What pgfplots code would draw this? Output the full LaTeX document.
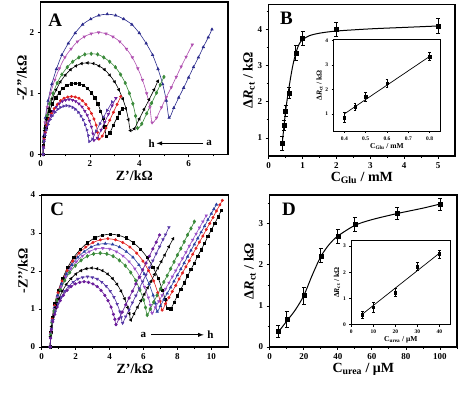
\documentclass[border=0pt]{standalone}
\usepackage{fontspec}
\setmainfont{Liberation Serif}
\usepackage{pgfplots}
\pgfplotsset{compat=1.18}
\definecolor{cNavy}{HTML}{2A2A8C}
\definecolor{cOrchid}{HTML}{B050B0}
\definecolor{cGreen}{HTML}{3A8A3A}
\definecolor{cRed}{HTML}{E02020}
\definecolor{cPurple}{HTML}{6A1B9A}
\definecolor{cViolet}{HTML}{5535A5}
\definecolor{cBlue}{HTML}{2A3FA0}
\definecolor{cLav}{HTML}{9A50C8}
\tikzset{letter/.style={font=\bfseries\fontsize{19}{19}\selectfont, anchor=north west, inner sep=0pt}}
\pgfplotsset{
  panel/.style={scale only axis, axis line style={line width=1.1pt},
    tick align=outside, tick style={line width=0.8pt,black},
    major tick length=3pt, minor tick length=2pt,
    xtick pos=bottom, ytick pos=left,
    /pgf/number format/assume math mode=true,
    tick label style={font=\bfseries\fontsize{9}{10}\selectfont},
    label style={font=\bfseries\fontsize{14}{15}\selectfont},
    clip=true},
  inset/.style={scale only axis, axis line style={line width=0.8pt},
    axis background/.style={fill=white},
    tick align=outside, tick style={line width=0.6pt,black},
    major tick length=2pt, minor tick length=1pt,
    xtick pos=bottom, ytick pos=left,
    /pgf/number format/assume math mode=true,
    tick label style={font=\bfseries\fontsize{5.5}{6}\selectfont},
    label style={font=\bfseries\fontsize{7.5}{8}\selectfont},
    xlabel style={yshift=4pt}, ylabel style={yshift=-4pt}},
  nyq/.style={line width=0.6pt, smooth, mark size=1.4pt},
}
\begin{document}
\begin{tikzpicture}
\path[use as bounding box] (0pt,0pt) rectangle (474pt,396pt);
% ---------------- Panel A ----------------
\begin{axis}[panel, at={(40.7pt,241.7pt)}, anchor=south west,
  width=187.3pt, height=152.3pt,
  xmin=0, xmax=7.6, ymin=0, ymax=2.5,
  xtick={0,2,4,6}, minor xtick={1,3,5,7}, ytick={0,1,2},
  xlabel={Z'/kΩ}, ylabel={-Z'{}'/kΩ},
  ylabel style={yshift=-4pt}, xlabel style={yshift=3pt}]
\addplot[nyq, color=cNavy, mark=triangle*] coordinates {(0.10,0) (0.12,0.30) (0.19,0.60) (0.30,0.88) (0.45,1.15) (0.64,1.40) (0.86,1.63) (1.12,1.82) (1.40,1.99) (1.70,2.13) (2.03,2.22) (2.36,2.28) (2.70,2.30) (3.04,2.28) (3.37,2.22) (3.70,2.13) (4.00,1.99) (4.28,1.82) (4.54,1.63) (4.76,1.40) (4.95,1.15) (5.10,0.88) (5.21,0.60) (5.4,0.76) (5.6,0.93) (5.8,1.09) (6.0,1.26) (6.2,1.43) (6.4,1.59) (6.6,1.76) (6.8,1.92) (6.95,2.05)};
\addplot[nyq, color=cOrchid, mark=triangle*, mark options={rotate=180}] coordinates {(0.10,0) (0.12,0.26) (0.18,0.52) (0.27,0.77) (0.40,1.00) (0.57,1.22) (0.76,1.41) (0.98,1.59) (1.23,1.73) (1.49,1.85) (1.77,1.93) (2.05,1.98) (2.35,2.00) (2.65,1.98) (2.93,1.93) (3.21,1.85) (3.48,1.73) (3.72,1.59) (3.94,1.41) (4.13,1.22) (4.30,1.00) (4.43,0.77) (4.52,0.52) (4.7,0.6) (4.9,0.77) (5.1,0.94) (5.3,1.1) (5.5,1.27) (5.7,1.44) (5.9,1.6) (6.15,1.8)};
\addplot[nyq, color=cGreen, mark=diamond*, mark size=1.7pt] coordinates {(0.10,0) (0.12,0.22) (0.17,0.43) (0.25,0.63) (0.36,0.83) (0.50,1.00) (0.67,1.17) (0.86,1.31) (1.08,1.43) (1.30,1.52) (1.55,1.59) (1.79,1.64) (2.05,1.65) (2.31,1.64) (2.56,1.59) (2.80,1.52) (3.03,1.43) (3.24,1.31) (3.43,1.17) (3.60,1.00) (3.74,0.83) (3.85,0.63) (3.93,0.43) (4.1,0.5) (4.3,0.67) (4.5,0.84) (4.7,1.01) (4.85,1.14) (5.0,1.27)};
\addplot[nyq, color=black, mark=triangle*, mark options={rotate=90}] coordinates {(0.10,0) (0.12,0.20) (0.16,0.39) (0.24,0.57) (0.34,0.75) (0.47,0.91) (0.63,1.06) (0.80,1.19) (1.00,1.30) (1.21,1.39) (1.43,1.45) (1.66,1.49) (1.90,1.50) (2.14,1.49) (2.37,1.45) (2.59,1.39) (2.80,1.30) (3.00,1.19) (3.17,1.06) (3.33,0.91) (3.46,0.75) (3.56,0.57) (3.64,0.39) (3.8,0.42) (4.0,0.58) (4.2,0.74) (4.4,0.9) (4.6,1.06) (4.75,1.2)};
\addplot[nyq, color=black, mark=square*, mark size=1.2pt] coordinates {(0.10,0) (0.11,0.15) (0.14,0.30) (0.20,0.45) (0.27,0.59) (0.37,0.71) (0.48,0.83) (0.61,0.93) (0.75,1.01) (0.90,1.08) (1.06,1.13) (1.23,1.16) (1.40,1.17) (1.57,1.16) (1.74,1.13) (1.90,1.08) (2.05,1.01) (2.19,0.93) (2.32,0.83) (2.43,0.71) (2.53,0.59) (2.60,0.45) (2.66,0.30) (2.8,0.35) (2.95,0.48) (3.1,0.6) (3.2,0.68) (3.3,0.75)};
\addplot[nyq, color=cRed, mark=*, mark size=1.2pt] coordinates {(0.10,0) (0.11,0.12) (0.14,0.25) (0.19,0.36) (0.25,0.48) (0.34,0.58) (0.44,0.67) (0.55,0.75) (0.68,0.82) (0.81,0.88) (0.95,0.92) (1.10,0.94) (1.25,0.95) (1.40,0.94) (1.55,0.92) (1.69,0.88) (1.83,0.82) (1.95,0.75) (2.06,0.67) (2.16,0.58) (2.25,0.48) (2.31,0.36) (2.36,0.25) (2.5,0.3) (2.65,0.43) (2.8,0.56) (2.95,0.69) (3.1,0.82) (3.25,0.95)};
\addplot[nyq, color=cPurple, mark=triangle*, mark options={rotate=180}] coordinates {(0.10,0) (0.11,0.12) (0.14,0.23) (0.18,0.34) (0.24,0.45) (0.32,0.55) (0.41,0.64) (0.51,0.71) (0.63,0.78) (0.75,0.83) (0.88,0.87) (1.01,0.89) (1.15,0.90) (1.29,0.89) (1.42,0.87) (1.55,0.83) (1.68,0.78) (1.79,0.71) (1.89,0.64) (1.98,0.55) (2.06,0.45) (2.12,0.34) (2.16,0.23) (2.3,0.27) (2.45,0.4) (2.6,0.53) (2.75,0.66) (2.9,0.8) (3.05,0.92)};
\addplot[nyq, color=cViolet, mark=triangle*, mark options={rotate=-90}] coordinates {(0.10,0) (0.11,0.10) (0.13,0.21) (0.17,0.31) (0.23,0.40) (0.30,0.49) (0.38,0.57) (0.47,0.63) (0.58,0.69) (0.69,0.74) (0.80,0.77) (0.93,0.79) (1.05,0.80) (1.17,0.79) (1.30,0.77) (1.41,0.74) (1.53,0.69) (1.63,0.63) (1.72,0.57) (1.80,0.49) (1.87,0.40) (1.93,0.31) (1.97,0.21) (2.1,0.25) (2.25,0.38) (2.4,0.5) (2.55,0.61) (2.7,0.72) (2.9,0.86)};
\draw[-latex, line width=0.9pt] (axis cs:6.6,0.18) -- (axis cs:4.7,0.18);
\node[font=\bfseries\fontsize{11}{11}\selectfont] at (axis cs:4.5,0.18) {h};
\node[font=\bfseries\fontsize{11}{11}\selectfont] at (axis cs:6.83,0.18) {a};
\node[letter] at (rel axis cs:0.04,0.92) {A};
\end{axis}
% ---------------- Panel B ----------------
\begin{axis}[panel, at={(268.7pt,240pt)}, anchor=south west,
  width=186.3pt, height=151.7pt,
  xmin=0, xmax=5.5, ymin=0.5, ymax=4.7,
  xtick={0,1,2,3,4,5}, minor xtick={0.5,1.5,2.5,3.5,4.5}, ytick={1,2,3,4}, minor ytick={1.5,2.5,3.5,4.5},
  xlabel={C\textsubscript{Glu} / mM}, ylabel={Δ\textit{R}\textsubscript{ct} / kΩ},
  ylabel style={yshift=-4pt}, xlabel style={yshift=3pt}]
\addplot[line width=1pt, smooth, black] coordinates {(0.4,0.85) (0.5,1.75) (0.6,2.4) (0.7,2.95) (0.8,3.35) (0.9,3.6) (1.0,3.72) (1.2,3.83) (1.5,3.9) (2.0,3.96) (3.0,4.02) (4.0,4.06) (5.0,4.1)};
\addplot[only marks, mark=square*, mark size=2pt, black, error bars/.cd, y dir=both, y explicit, error bar style={line width=0.7pt}, error mark options={rotate=90, mark size=2pt, line width=0.7pt}] coordinates {(0.4,0.85) +- (0,0.2) (0.45,1.35) +- (0,0.15) (0.5,1.75) +- (0,0.15) (0.6,2.25) +- (0,0.15) (0.8,3.35) +- (0,0.2) (1.0,3.75) +- (0,0.2) (2.0,4.0) +- (0,0.2) (5.0,4.1) +- (0,0.2)};
\node[letter] at (rel axis cs:0.06,0.95) {B};
\end{axis}
\begin{axis}[inset, at={(333.7pt,265pt)}, anchor=south west,
  width=106.6pt, height=91.7pt,
  xmin=0.35, xmax=0.85, ymin=0.3, ymax=4.05,
  xtick={0.4,0.5,0.6,0.7,0.8}, ytick={1,2,3,4},
  xticklabel style={/pgf/number format/.cd, fixed, precision=1},
  xlabel={C\textsubscript{Glu} / mM}, ylabel={Δ\textit{R}\textsubscript{ct} / kΩ}]
\addplot[line width=0.7pt, black] coordinates {(0.4,1.0) (0.8,3.35)};
\addplot[only marks, mark=square*, mark size=1.3pt, black, error bars/.cd, y dir=both, y explicit, error bar style={line width=0.5pt}, error mark options={rotate=90, mark size=1.3pt, line width=0.5pt}] coordinates {(0.4,0.85) +- (0,0.2) (0.45,1.3) +- (0,0.15) (0.5,1.7) +- (0,0.2) (0.6,2.25) +- (0,0.15) (0.8,3.35) +- (0,0.15)};
\end{axis}
% ---------------- Panel C ----------------
\begin{axis}[panel, at={(41.7pt,49pt)}, anchor=south west,
  width=186.6pt, height=152pt,
  xmin=0, xmax=11, ymin=0, ymax=4,
  xtick={0,2,4,6,8,10}, minor xtick={1,3,5,7,9}, ytick={0,1,2,3,4},
  xlabel={Z'/kΩ}, ylabel={-Z'{}'/kΩ},
  ylabel style={yshift=-4pt}, xlabel style={yshift=3pt}]
\addplot[nyq, color=black, mark=square*, mark size=1.2pt] coordinates {(0.50,0) (0.53,0.39) (0.62,0.77) (0.77,1.14) (0.98,1.49) (1.24,1.81) (1.54,2.10) (1.89,2.36) (2.28,2.57) (2.69,2.74) (3.13,2.87) (3.59,2.94) (4.05,2.97) (4.52,2.94) (4.97,2.87) (5.41,2.74) (5.83,2.57) (6.21,2.36) (6.56,2.10) (6.87,1.81) (7.12,1.49) (7.27,1.26) (7.39,1.02) (7.6,1.0) (7.8,1.17) (8.0,1.35) (8.2,1.52) (8.4,1.69) (8.6,1.87) (8.8,2.04) (9.0,2.21) (9.2,2.39) (9.4,2.56) (9.6,2.73) (9.8,2.91) (10.0,3.08) (10.2,3.25) (10.4,3.43) (10.6,3.6)};
\addplot[nyq, color=cRed, mark=*, mark size=1.2pt] coordinates {(0.50,0) (0.53,0.37) (0.62,0.74) (0.76,1.09) (0.96,1.43) (1.20,1.74) (1.50,2.01) (1.83,2.26) (2.20,2.47) (2.60,2.63) (3.02,2.75) (3.46,2.82) (3.90,2.85) (4.35,2.82) (4.78,2.75) (5.20,2.63) (5.60,2.47) (5.97,2.26) (6.30,2.01) (6.60,1.74) (6.84,1.43) (6.98,1.21) (7.10,0.97) (7.3,1.14) (7.5,1.3) (7.7,1.46) (7.9,1.62) (8.1,1.79) (8.3,1.95) (8.5,2.11) (8.7,2.27) (8.9,2.44) (9.1,2.6) (9.3,2.76) (9.5,2.92) (9.7,3.09) (9.9,3.25) (10.1,3.41) (10.3,3.58) (10.5,3.74) (10.65,3.86)};
\addplot[nyq, color=cBlue, mark=triangle*] coordinates {(0.50,0) (0.53,0.36) (0.61,0.70) (0.75,1.04) (0.94,1.36) (1.17,1.66) (1.45,1.92) (1.77,2.16) (2.13,2.36) (2.51,2.51) (2.91,2.63) (3.32,2.70) (3.75,2.72) (4.18,2.70) (4.59,2.63) (4.99,2.51) (5.38,2.36) (5.73,2.16) (6.05,1.92) (6.33,1.66) (6.57,1.36) (6.70,1.15) (6.81,0.93) (7.0,1.08) (7.2,1.25) (7.4,1.41) (7.6,1.57) (7.8,1.73) (8.0,1.89) (8.2,2.05) (8.4,2.21) (8.6,2.38) (8.8,2.54) (9.0,2.7) (9.2,2.86) (9.4,3.02) (9.6,3.18) (9.8,3.35) (10.0,3.51) (10.15,3.63) (10.3,3.75)};
\addplot[nyq, color=cLav, mark=triangle*, mark options={rotate=180}] coordinates {(0.50,0) (0.53,0.34) (0.61,0.67) (0.74,1.00) (0.92,1.30) (1.14,1.58) (1.41,1.84) (1.71,2.06) (2.05,2.25) (2.41,2.40) (2.80,2.51) (3.19,2.58) (3.60,2.60) (4.01,2.58) (4.40,2.51) (4.79,2.40) (5.15,2.25) (5.49,2.06) (5.79,1.84) (6.06,1.58) (6.29,1.30) (6.41,1.10) (6.51,0.89) (6.7,1.04) (6.9,1.2) (7.1,1.36) (7.3,1.53) (7.5,1.69) (7.7,1.85) (7.9,2.01) (8.1,2.17) (8.3,2.33) (8.5,2.49) (8.7,2.66) (8.9,2.82) (9.1,2.98) (9.3,3.14) (9.5,3.3) (9.7,3.46)};
\addplot[nyq, color=cGreen, mark=diamond*, mark size=1.7pt] coordinates {(0.50,0) (0.53,0.32) (0.60,0.64) (0.72,0.95) (0.90,1.24) (1.11,1.50) (1.36,1.75) (1.65,1.96) (1.98,2.14) (2.32,2.28) (2.69,2.39) (3.06,2.45) (3.45,2.47) (3.84,2.45) (4.21,2.39) (4.58,2.28) (4.93,2.14) (5.25,1.96) (5.54,1.75) (5.79,1.50) (6.01,1.24) (6.12,1.04) (6.22,0.84) (6.4,1.0) (6.6,1.18) (6.8,1.36) (7.0,1.53) (7.2,1.71) (7.4,1.88) (7.6,2.06) (7.8,2.24) (8.0,2.42) (8.2,2.59) (8.4,2.77) (8.6,2.95) (8.8,3.12) (9.0,3.3)};
\addplot[nyq, color=black, mark=triangle*, mark options={rotate=90}] coordinates {(0.50,0) (0.52,0.27) (0.58,0.54) (0.69,0.80) (0.83,1.04) (1.01,1.27) (1.22,1.47) (1.46,1.65) (1.73,1.80) (2.01,1.92) (2.32,2.01) (2.63,2.06) (2.95,2.08) (3.27,2.06) (3.58,2.01) (3.89,1.92) (4.18,1.80) (4.44,1.65) (4.68,1.47) (4.89,1.27) (5.07,1.04) (5.17,0.88) (5.25,0.71) (5.45,0.88) (5.65,1.05) (5.85,1.22) (6.05,1.39) (6.25,1.56) (6.45,1.73) (6.65,1.91) (6.85,2.08) (7.05,2.25) (7.25,2.42) (7.5,2.64) (7.75,2.85)};
\addplot[nyq, color=cViolet, mark=triangle*, mark options={rotate=180}] coordinates {(0.50,0) (0.52,0.24) (0.58,0.48) (0.67,0.71) (0.80,0.93) (0.96,1.13) (1.15,1.31) (1.36,1.47) (1.60,1.60) (1.86,1.71) (2.13,1.79) (2.41,1.83) (2.70,1.85) (2.99,1.83) (3.27,1.79) (3.54,1.71) (3.80,1.60) (4.04,1.47) (4.26,1.31) (4.45,1.13) (4.61,0.93) (4.69,0.78) (4.77,0.63) (4.95,0.8) (5.15,0.98) (5.35,1.17) (5.55,1.35) (5.75,1.54) (5.95,1.72) (6.15,1.9) (6.35,2.09) (6.55,2.27) (6.75,2.46) (6.95,2.64) (7.15,2.83) (7.3,2.96) (7.5,3.15)};
\addplot[nyq, color=cPurple, mark=*, mark size=1.3pt] coordinates {(0.50,0) (0.52,0.23) (0.57,0.45) (0.65,0.66) (0.77,0.86) (0.91,1.05) (1.09,1.22) (1.28,1.36) (1.50,1.49) (1.73,1.59) (1.98,1.66) (2.24,1.70) (2.50,1.72) (2.76,1.70) (3.02,1.66) (3.27,1.59) (3.50,1.49) (3.72,1.36) (3.91,1.22) (4.09,1.05) (4.23,0.86) (4.31,0.73) (4.38,0.59) (4.55,0.74) (4.75,0.92) (4.95,1.11) (5.15,1.29) (5.35,1.47) (5.55,1.66) (5.75,1.84) (5.95,2.03) (6.15,2.21) (6.35,2.39) (6.55,2.58) (6.75,2.76) (6.95,2.95)};
\draw[-latex, line width=0.9pt] (axis cs:6.45,0.32) -- (axis cs:9.55,0.32);
\node[font=\bfseries\fontsize{11}{11}\selectfont] at (axis cs:6.0,0.32) {a};
\node[font=\bfseries\fontsize{11}{11}\selectfont] at (axis cs:9.95,0.32) {h};
\node[letter] at (rel axis cs:0.045,0.95) {C};
\end{axis}
% ---------------- Panel D ----------------
\begin{axis}[panel, at={(269.7pt,49pt)}, anchor=south west,
  width=187.3pt, height=152pt,
  xmin=0, xmax=110, ymin=0, ymax=3.7,
  xtick={0,20,40,60,80,100}, minor xtick={10,30,50,70,90,110}, ytick={0,1,2,3}, minor ytick={0.5,1.5,2.5,3.5},
  xlabel={C\textsubscript{urea} / μM}, ylabel={Δ\textit{R}\textsubscript{ct} / kΩ},
  ylabel style={yshift=-4pt}, xlabel style={yshift=3pt}]
\addplot[line width=1pt, smooth, black] coordinates {(5,0.36) (10,0.63) (15,0.9) (20,1.25) (25,1.75) (30,2.2) (35,2.5) (40,2.7) (50,2.96) (60,3.1) (75,3.25) (90,3.38) (100,3.48)};
\addplot[only marks, mark=square*, mark size=2pt, black, error bars/.cd, y dir=both, y explicit, error bar style={line width=0.7pt}, error mark options={rotate=90, mark size=2pt, line width=0.7pt}] coordinates {(5,0.38) +- (0,0.15) (10,0.67) +- (0,0.2) (20,1.25) +- (0,0.2) (30,2.22) +- (0,0.17) (40,2.7) +- (0,0.17) (50,2.98) +- (0,0.17) (75,3.25) +- (0,0.15) (100,3.48) +- (0,0.15)};
\node[letter] at (rel axis cs:0.065,0.95) {D};
\end{axis}
\begin{axis}[inset, at={(351.3pt,71.3pt)}, anchor=south west,
  width=99pt, height=84pt,
  xmin=0, xmax=45, ymin=0, ymax=3.2,
  xtick={0,10,20,30,40}, ytick={0,1,2,3},
  xlabel={C\textsubscript{urea} / μM}, ylabel={Δ\textit{R}\textsubscript{ct} / kΩ}]
\addplot[line width=0.7pt, black] coordinates {(5,0.4) (40,2.72)};
\addplot[only marks, mark=square*, mark size=1.3pt, black, error bars/.cd, y dir=both, y explicit, error bar style={line width=0.5pt}, error mark options={rotate=90, mark size=1.3pt, line width=0.5pt}] coordinates {(5,0.38) +- (0,0.15) (10,0.67) +- (0,0.2) (20,1.23) +- (0,0.15) (30,2.22) +- (0,0.15) (40,2.7) +- (0,0.15)};
\end{axis}
\end{tikzpicture}
\end{document}
